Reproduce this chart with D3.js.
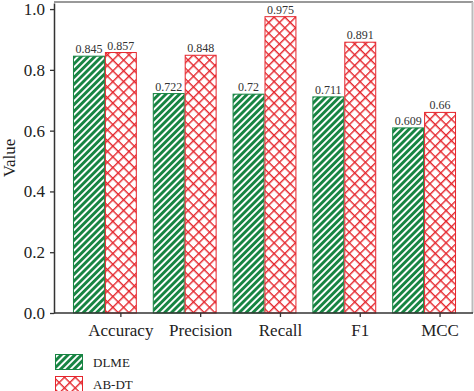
<!DOCTYPE html>
<html><head><meta charset="utf-8">
<script src="https://cdn.jsdelivr.net/npm/d3@7"></script>
<style>body{margin:0;background:#fff}svg{display:block}text{font-family:"Liberation Serif","Times New Roman","DejaVu Serif",serif}</style>
</head><body>
<svg id="c" width="474" height="391"></svg>
<script>
const categories = ["Accuracy","Precision","Recall","F1","MCC"];
const seriesNames = ["DLME","AB-DT"];
const dlme = [0.845,0.722,0.72,0.711,0.609];
const abdt = [0.857,0.848,0.975,0.891,0.66];
const yTicks = [0,0.2,0.4,0.6,0.8,1.0];
const valueLabels = [["0.845","0.722","0.72","0.711","0.609"],["0.857","0.848","0.975","0.891","0.66"]];
const colors = {green:"#178442", red:"#e5262d"};

const svg = d3.select("#c");
const defs = svg.append("defs");
const g1 = defs.append("pattern").attr("id","stripe").attr("patternUnits","userSpaceOnUse")
  .attr("width",4.8).attr("height",8).attr("patternTransform","rotate(45)");
g1.append("rect").attr("width",4.8).attr("height",8).attr("fill","#fff");
g1.append("rect").attr("width",2.9).attr("height",8).attr("fill",colors.green);
const g2 = defs.append("pattern").attr("id","cross").attr("patternUnits","userSpaceOnUse")
  .attr("width",7.6).attr("height",7.6).attr("patternTransform","rotate(45)");
g2.append("rect").attr("width",7.6).attr("height",7.6).attr("fill","#fff");
g2.append("line").attr("x1",0).attr("y1",0.7).attr("x2",7.6).attr("y2",0.7).attr("stroke",colors.red).attr("stroke-width",1.4);
g2.append("line").attr("x1",0.7).attr("y1",0).attr("x2",0.7).attr("y2",7.6).attr("stroke",colors.red).attr("stroke-width",1.4);
const fills = ["url(#stripe)","url(#cross)"];
const strokes = [colors.green, colors.red];

const pL = 54, pR = 472, pT = 3, pB = 313;
const y = d3.scaleLinear().domain([0,1.02]).range([pB, pT]);
const x = d3.scaleBand().domain(categories).range([65, 464]).paddingInner(0.2).paddingOuter(0.1);
const xs = d3.scaleBand().domain(seriesNames).range([0, x.bandwidth()]);

// frame top/right
svg.append("line").attr("x1",pL).attr("x2",pR+1).attr("y1",2).attr("y2",2).attr("stroke","#999").attr("stroke-width",2);
svg.append("line").attr("x1",pR+0.5).attr("x2",pR+0.5).attr("y1",2).attr("y2",pB).attr("stroke","#bbb").attr("stroke-width",2);

const data = categories.map((c,i)=>({c, vals:[dlme[i], abdt[i]]}));
const grp = svg.append("g");
data.forEach((d,i)=>{
  d.vals.forEach((v,j)=>{
    const s = seriesNames[j];
    grp.append("rect").attr("x", x(d.c)+xs(s)+0.5).attr("y", y(v))
      .attr("width", xs.bandwidth()-1).attr("height", y(0)-y(v))
      .attr("fill", fills[j]).attr("stroke", strokes[j]).attr("stroke-width",1);
    grp.append("text").attr("x", x(d.c)+xs(s)+xs.bandwidth()/2).attr("y", y(v)-3)
      .attr("text-anchor","middle").attr("font-size",12).attr("fill","#333").text(valueLabels[j][i]);
  });
});

// y axis
const ya = svg.append("g").attr("transform",`translate(${pL},0)`)
  .call(d3.axisLeft(y).tickValues(yTicks).tickFormat(d3.format(".1f")).tickSize(4).tickPadding(5).tickSizeOuter(0));
ya.attr("font-family",null);
ya.select(".domain").attr("stroke","#333").attr("stroke-width",1.5);
ya.selectAll(".tick line").attr("stroke","#333").attr("stroke-width",1.3);
ya.selectAll(".tick text").attr("font-size",17).attr("fill","#222");

// x axis
const xa = svg.append("g").attr("transform",`translate(0,${pB})`)
  .call(d3.axisBottom(x).tickSize(4).tickPadding(7).tickSizeOuter(0));
xa.attr("font-family",null);
xa.select(".domain").attr("d",`M${pL},0H${pR+1}`).attr("stroke","#333").attr("stroke-width",1.5);
xa.selectAll(".tick").attr("transform", d=>`translate(${x(d)+xs("AB-DT")+xs.bandwidth()/2},0)`);
xa.selectAll(".tick line").attr("stroke","#333").attr("stroke-width",1.3);
xa.selectAll(".tick text").attr("font-size",17).attr("fill","#222");

svg.append("text").attr("transform",`translate(15,${(pT+pB)/2}) rotate(-90)`)
  .attr("text-anchor","middle").attr("font-size",17).attr("fill","#222").text("Value");

// legend
seriesNames.forEach((s,j)=>{
  const ly = 354 + j*22;
  svg.append("rect").attr("x",55.5).attr("y",ly+0.5).attr("width",27).attr("height",15)
    .attr("fill",fills[j]).attr("stroke",strokes[j]).attr("stroke-width",1);
  svg.append("text").attr("x",93).attr("y",ly+8).attr("dy","0.35em").attr("font-size",13).attr("fill","#222").text(s);
});
</script>
</body></html>
